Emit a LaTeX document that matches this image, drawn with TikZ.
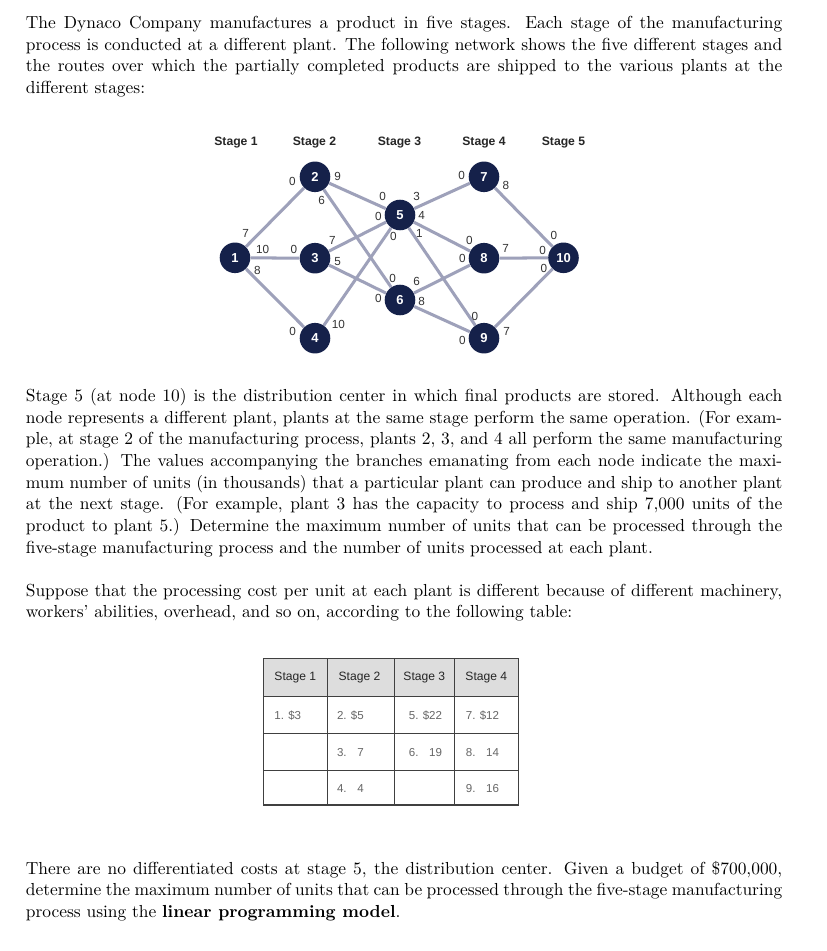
\documentclass[tikz,border=0pt]{standalone}
\usepackage{fontspec}
\newfontfamily\hv{Liberation Sans}
\definecolor{navy}{HTML}{15214A}
\definecolor{edgec}{HTML}{9EA1BA}
\definecolor{hdrfill}{HTML}{DDDDDD}
\newcommand\mypara[1]{\parbox[t]{425.5pt}{\fontsize{9.8}{12.19}\selectfont\hyphenpenalty=10000 #1}}
\begin{document}
\begin{tikzpicture}[x=0.5625pt,y=-0.5625pt,
  para/.style={anchor=base west,inner sep=0pt},
  plant/.style={circle,fill=navy,minimum size=17.2pt,inner sep=0pt,text=white,font=\hv\bfseries\fontsize{7.3}{8}\selectfont},
  link/.style={draw=edgec,line width=1.7pt},
  caplab/.style={inner sep=0pt,text=black!80,font=\hv\fontsize{6.6}{7}\selectfont},
  stagelab/.style={inner sep=0pt,text=black!85,font=\hv\bfseries\fontsize{6.85}{8}\selectfont},
  grid/.style={draw=black!75,line width=0.65pt},
  thead/.style={inner sep=0pt,text=black!85,font=\hv\fontsize{6.8}{8}\selectfont},
  tcell/.style={inner sep=0pt,anchor=west,text=black!60,font=\hv\fontsize{6.5}{7}\selectfont}
]
\useasboundingbox[fill=white] (0,0) rectangle (827,951);

% ---------- paragraphs ----------
\node[para] (p1) at (25.5,28.5) {\mypara{The Dynaco Company manufactures a product in five stages.  Each stage of the manufacturing\linebreak
process is conducted at a different plant. The following network shows the five different stages and\linebreak
the routes over which the partially completed products are shipped to the various plants at the\linebreak
different stages:}};

\node[para] (p2) at (25.5,401.6) {\mypara{Stage 5 (at node 10) is the distribution center in which final products are stored. Although each\linebreak
node represents a different plant, plants at the same stage perform the same operation. (For exam-\linebreak
ple, at stage 2 of the manufacturing process, plants 2, 3, and 4 all perform the same manufacturing\linebreak
operation.) The values accompanying the branches emanating from each node indicate the maxi-\linebreak
mum number of units (in thousands) that a particular plant can produce and ship to another plant\linebreak
at the next stage. (For example, plant 3 has the capacity to process and ship 7,000 units of the\linebreak
product to plant 5.) Determine the maximum number of units that can be processed through the\linebreak
five-stage manufacturing process and the number of units processed at each plant.}};

\node[para] (p3) at (25.5,596) {\mypara{Suppose that the processing cost per unit at each plant is different because of different machinery,\linebreak
workers' abilities, overhead, and so on, according to the following table:}};

\node[para] (p4) at (25.5,874) {\mypara{There are no differentiated costs at stage 5, the distribution center. Given a budget of \$700,000,\linebreak
determine the maximum number of units that can be processed through the five-stage manufacturing\linebreak
process using the \textbf{linear programming model}.}};

% ---------- network ----------
\node[stagelab] (s1) at (236,142.3) {Stage 1};
\node[stagelab] (s2) at (314.5,142.3) {Stage 2};
\node[stagelab] (s3) at (399.5,142.3) {Stage 3};
\node[stagelab] (s4) at (484,142.3) {Stage 4};
\node[stagelab] (s5) at (563.5,142.3) {Stage 5};

\node[plant] (n1) at (235,257.8) {1};
\node[plant] (n2) at (315,176.8) {2};
\node[plant] (n3) at (315,258.2) {3};
\node[plant] (n4) at (315,338.2) {4};
\node[plant] (n5) at (400,215) {5};
\node[plant] (n6) at (400,300) {6};
\node[plant] (n7) at (484,176.8) {7};
\node[plant] (n8) at (484,258.2) {8};
\node[plant] (n9) at (484,338.2) {9};
\node[plant] (n10) at (563.5,257.8) {10};

\foreach \a/\b in {n1/n2,n1/n3,n1/n4,n2/n5,n2/n6,n3/n5,n3/n6,n4/n5,n5/n7,n5/n8,n5/n9,n6/n8,n6/n9,n7/n10,n8/n10,n9/n10}
  \draw[link] (\a) -- (\b);

\foreach \x/\y/\t [count=\i] in {
  292.3/181.7/0, 337.7/176.7/9, 321.7/200/6,
  245.7/233.3/7, 262.7/249/10, 257.3/270/8,
  294/249/0, 332.3/240/7, 337.7/261.7/5,
  292.7/331.7/0, 338.3/324/10,
  382.7/196.7/0, 378.3/216.7/0, 393.3/236.7/0, 416.7/196.7/3, 421.7/215/4, 419.3/233.3/1,
  392.7/278.3/0, 378.3/298.3/0, 416.7/281.7/6, 421.7/301/8,
  461.7/175/0, 506/185.7/8,
  469.3/240/0, 462.3/258.3/0, 505.7/248.3/7,
  475/316.7/0, 462.3/340/0, 506.7/331.7/7,
  554/235/0, 542.7/250/0, 544/268.3/0}
  \node[caplab] (lab\i) at (\x,\y) {\t};

% ---------- table ----------
\fill[hdrfill] (263.3,658.3) rectangle (518.3,696.7);
\draw[grid] (263.3,658.3) rectangle (518.3,805);
\foreach \yy in {696.7,733.5,770.5} \draw[grid] (263.3,\yy) -- (518.3,\yy);
\foreach \xx in {327.3,394.3,454.3} \draw[grid] (\xx,658.3) -- (\xx,805);

\node[thead] (h1) at (295.3,677.5) {Stage 1};
\node[thead] (h2) at (359.5,677.5) {Stage 2};
\node[thead] (h3) at (424.3,677.5) {Stage 3};
\node[thead] (h4) at (486.3,677.5) {Stage 4};

\node[tcell] (c11) at (274,715.5) {1. \$3};
\node[tcell] (c21) at (336.7,715.5) {2. \$5};
\node[tcell] (c22) at (336.7,752.5) {3. \phantom{\$}7};
\node[tcell] (c23) at (336.7,789) {4. \phantom{\$}4};
\node[tcell] (c31) at (408.5,715.5) {5. \$22};
\node[tcell] (c32) at (408.5,752.5) {6. \phantom{\$}19};
\node[tcell] (c41) at (465.5,715.5) {7. \$12};
\node[tcell] (c42) at (465.5,752.5) {8. \phantom{\$}14};
\node[tcell] (c43) at (465.5,789) {9. \phantom{\$}16};
\end{tikzpicture}
\end{document}
